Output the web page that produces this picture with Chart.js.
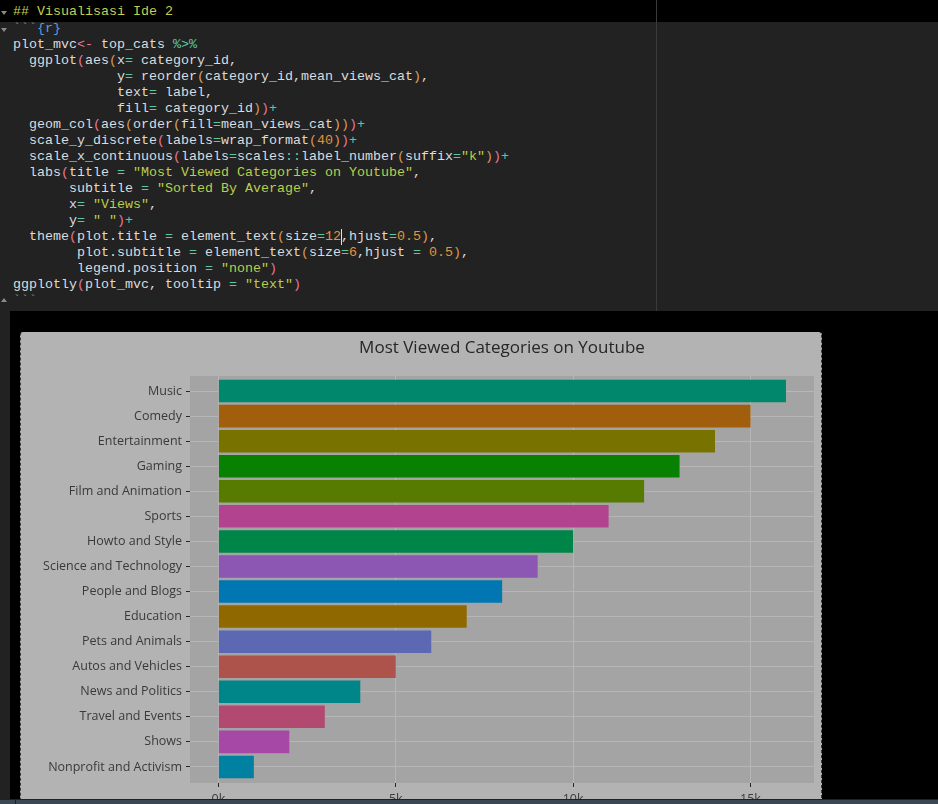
<!DOCTYPE html>
<html>
<head>
<meta charset="utf-8">
<script src="https://cdn.jsdelivr.net/npm/chart.js@4.4.1/dist/chart.umd.min.js"></script>
<style>
html,body{margin:0;padding:0;width:938px;height:804px;overflow:hidden;background:#222;}
#editor{position:absolute;left:0;top:0;width:938px;height:311px;background:#222;}
#hdr{position:absolute;left:0;top:0;width:938px;height:22px;background:#000;}
#margin{position:absolute;left:656px;top:0;width:1px;height:311px;background:#3a3a3a;}
.ln{position:absolute;left:13px;height:16px;line-height:16px;white-space:pre;font-family:'Liberation Mono',monospace;font-size:13.33px;color:#dcdcdc;}
.hd{color:#c4d24c;}
.bt{color:#7f93a8;}
.ch{color:#5b9be0;}
.op{color:#5ec8a4;}
.as{color:#e27aa0;}
.p0{color:#e2789e;}
.p1{color:#d99a55;}
.p2{color:#d8a662;}
.str{color:#b9cf4a;}
.num{color:#e8923a;}
.fold{position:absolute;left:1px;width:0;height:0;border-left:3px solid transparent;border-right:3px solid transparent;}
.fold.dn{border-top:4px solid #8a8a8a;}
.fold.up{border-bottom:4px solid #8a8a8a;}
#cursor{position:absolute;left:341px;top:229px;width:1px;height:16px;background:#e0e0e0;}
#out{position:absolute;left:10px;top:311px;width:928px;height:489px;background:#000;}
#panel{position:absolute;left:20px;top:332px;width:802px;height:480px;background:#b3b3b3;box-sizing:border-box;border-left:1px dashed #3c3c3c;border-right:1px dashed #3c3c3c;border-radius:3px 3px 0 0;}
#chart{position:absolute;left:0;top:0;}
#bar{position:absolute;left:0;top:799px;width:938px;height:5px;background:#3b4853;border-top:1px solid #18232c;z-index:10;}
#barsep{position:absolute;left:15px;top:800px;width:1px;height:4px;background:#18232c;z-index:11;}
</style>
</head>
<body>
<div id="editor">
  <div id="hdr"></div>
  <div id="margin"></div>
  <div class="fold dn" style="top:11px"></div>
  <div class="fold dn" style="top:28px"></div>
  <div class="fold up" style="top:298px"></div>
  <div id="code"></div>
  <div id="cursor"></div>
</div>
<div id="out">
</div>
<div id="panel"><canvas id="chart" width="800" height="480"></canvas></div>
<div id="bar"></div>
<div id="barsep"></div>
<script>
// ---- chart data ----
const categories = ["Music","Comedy","Entertainment","Gaming","Film and Animation","Sports","Howto and Style","Science and Technology","People and Blogs","Education","Pets and Animals","Autos and Vehicles","News and Politics","Travel and Events","Shows","Nonprofit and Activism"];
const meanViews = [16000,15000,14000,13000,12000,11000,10000,9000,8000,7000,6000,5000,4000,3000,2000,1000];
const barColors = ["#00876C","#A15E0D","#787200","#088001","#577A00","#B2448F","#008548","#8B57B2","#0076B2","#8F6900","#5C68B2","#AE534C","#008689","#B24971","#A649A6","#0081A2"];
const xTickValues = [0,5000,10000,15000];
const titleText = "Most Viewed Categories on Youtube";

// ---- code text shown in the editor ----
const headerLine = "## Visualisasi Ide 2";
const codeLines = [
 'plot_mvc<- top_cats %>%',
 '  ggplot(aes(x= category_id,',
 '             y= reorder(category_id,mean_views_cat),',
 '             text= label,',
 '             fill= category_id))+',
 '  geom_col(aes(order(fill=mean_views_cat)))+',
 '  scale_y_discrete(labels=wrap_format(40))+',
 '  scale_x_continuous(labels=scales::label_number(suffix="k"))+',
 '  labs(title = "Most Viewed Categories on Youtube",',
 '       subtitle = "Sorted By Average",',
 '       x= "Views",',
 '       y= " ")+',
 '  theme(plot.title = element_text(size=12,hjust=0.5),',
 '        plot.subtitle = element_text(size=6,hjust = 0.5),',
 '        legend.position = "none")',
 'ggplotly(plot_mvc, tooltip = "text")'
];

function esc(s){return s.replace(/&/g,'&amp;').replace(/</g,'&lt;').replace(/>/g,'&gt;');}
let depth = 0;
function tok(line){
  let out='', buf='';
  const flush=()=>{ if(buf){ out+=esc(buf); buf=''; } };
  const sp=(t,c)=>{ flush(); out+='<span class="'+c+'">'+esc(t)+'</span>'; };
  for(let i=0;i<line.length;){
    const c=line[i];
    if(c==='"'){ const j=line.indexOf('"',i+1); sp(line.slice(i,j+1),'str'); i=j+1; continue; }
    if(line.startsWith('<-',i)){ sp('<-','as'); i+=2; continue; }
    if(line.startsWith('%>%',i)){ sp('%>%','op'); i+=3; continue; }
    if(line.startsWith('::',i)){ sp('::','op'); i+=2; continue; }
    if(c==='='||c==='+'){ sp(c,'op'); i++; continue; }
    if(c==='('){ sp(c,'p'+(depth%3)); depth++; i++; continue; }
    if(c===')'){ depth--; sp(c,'p'+(depth%3)); i++; continue; }
    if(/[0-9]/.test(c) && !/[A-Za-z_.0-9]/.test(line[i-1]||' ')){
      let j=i; while(j<line.length && /[0-9.]/.test(line[j])) j++;
      sp(line.slice(i,j),'num'); i=j; continue;
    }
    buf+=c; i++;
  }
  flush();
  return out;
}
(function(){
  const code=document.getElementById('code');
  let html='';
  html+='<div class="ln hd" style="top:4px">'+esc(headerLine)+'</div>';
  html+='<div class="ln" style="top:21px"><span class="bt">```</span><span class="ch">{r}</span></div>';
  codeLines.forEach((l,k)=>{ html+='<div class="ln" style="top:'+(37+16*k)+'px">'+tok(l)+'</div>'; });
  html+='<div class="ln" style="top:293px"><span class="bt">```</span></div>';
  code.innerHTML=html;
})();

// ---- chart ----
const plotBg = {
  id:'plotBg',
  beforeDraw(chart){
    const {ctx, chartArea:a} = chart;
    ctx.save();
    ctx.fillStyle = '#a4a4a4';
    ctx.fillRect(a.left, a.top, a.right-a.left, a.bottom-a.top);
    ctx.restore();
  }
};
const tickFont = {family:'Open Sans', size:12.5};
new Chart(document.getElementById('chart'), {
  type:'bar',
  data:{
    datasets:[{
      data: categories.map((c,i)=>({x: meanViews[i], y: i})),
      backgroundColor: barColors,
      borderWidth: 0,
      barPercentage: 0.9,
      categoryPercentage: 1.0
    }]
  },
  options:{
    indexAxis:'y',
    responsive:false,
    animation:false,
    layout:{padding:{left:0,right:7,top:0,bottom:0}},
    plugins:{
      legend:{display:false},
      tooltip:{enabled:false},
      title:{display:true, text:titleText, fullSize:false, color:'#262626',
             font:{family:'Open Sans', size:17, weight:'normal', lineHeight:1.2},
             padding:{top:6, bottom:17.6}}
    },
    scales:{
      x:{
        type:'linear', min:-800, max:16790, offset:false,
        afterBuildTicks:(s)=>{ s.ticks = xTickValues.map(v=>({value:v})); },
        afterFit:(s)=>{ s.height = 29; },
        ticks:{callback:(v)=>(v/1000)+'k', font:tickFont, color:'#3a3a3a', padding:5, maxRotation:0, autoSkip:false},
        grid:{offset:false, color:'#b6b6b6', lineWidth:1, tickLength:4, tickColor:'#262626', tickWidth:1},
        border:{display:false}
      },
      y:{
        type:'linear', reverse:true, min:-0.6, max:15.64, offset:false,
        afterBuildTicks:(s)=>{ s.ticks = categories.map((c,i)=>({value:i})); },
        afterFit:(s)=>{ s.width = 169; },
        ticks:{callback:(v)=>categories[v], font:tickFont, color:'#3a3a3a', padding:4, autoSkip:false},
        grid:{offset:false, color:'#b6b6b6', lineWidth:1, tickLength:4, tickColor:'#262626', tickWidth:1},
        border:{display:false}
      }
    }
  },
  plugins:[plotBg]
});
</script>
</body>
</html>
